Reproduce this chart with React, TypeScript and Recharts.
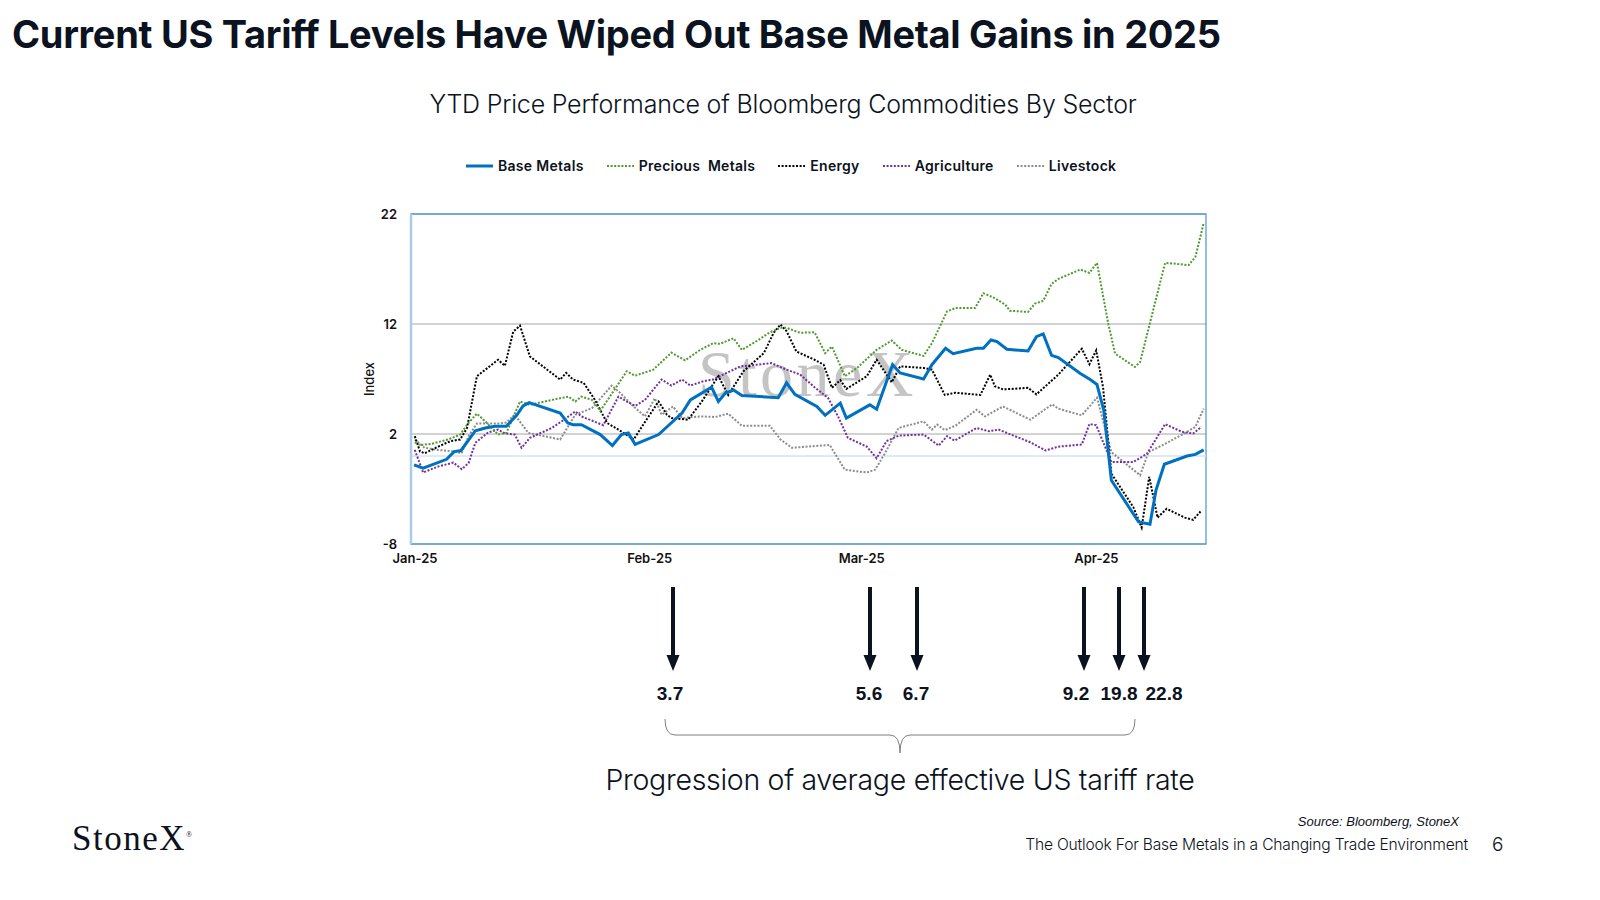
import { LineChart, Line, XAxis, YAxis, CartesianGrid, ReferenceArea, ReferenceLine } from 'recharts';

// x = days since 1 Jan 2025, y = YTD % change
const monthTicks = [0, 31, 59, 90];
const monthLabels = ['Jan-25', 'Feb-25', 'Mar-25', 'Apr-25'];
const yTicks = [-8, 2, 12, 22];

const baseMetals: [number, number][] = [
  [0.4, -0.8], [1.6, -1.1], [4.7, -0.3], [5.7, 0.4], [6.6, 0.5], [8.5, 2.3], [9.8, 2.55], [11.1, 2.7],
  [12.6, 2.7], [14.0, 3.75], [14.8, 4.55], [15.6, 4.85], [19.7, 3.9], [20.7, 3.0], [21.4, 2.85], [22.5, 2.85],
  [25.0, 1.95], [26.6, 0.95], [27.8, 1.95], [28.7, 2.1], [29.6, 1.05], [32.7, 1.95], [35.8, 3.9], [36.9, 5.1],
  [39.7, 6.25], [40.6, 4.95], [41.5, 5.7], [42.6, 6.0], [43.7, 5.5], [48.5, 5.3], [49.6, 6.65], [50.7, 5.6],
  [53.6, 4.5], [54.7, 3.7], [56.7, 4.8], [57.5, 3.45], [60.6, 4.65], [61.5, 4.25], [63.6, 8.3], [64.6, 7.55],
  [67.7, 7.0], [68.8, 8.3], [70.6, 9.8], [71.6, 9.3], [74.7, 9.8], [75.6, 9.8], [76.6, 10.55], [77.4, 10.4],
  [78.7, 9.7], [81.5, 9.55], [82.6, 10.85], [83.5, 11.1], [84.6, 9.15], [85.5, 8.95], [88.4, 7.5], [89.7, 6.95],
  [90.6, 6.5], [91.5, 4.15], [92.5, -2.2], [96.1, -6.0], [97.6, -6.2], [98.4, -3.1], [99.5, -0.75], [102.5, 0.0],
  [103.6, 0.15], [104.7, 0.55],
];

const preciousMetals: [number, number][] = [
  [0.5, 1.25], [1.2, 1.0], [2.7, 1.1], [4.9, 1.5], [6.5, 1.95], [7.4, 2.85], [8.7, 3.85], [9.8, 3.15],
  [11.5, 1.95], [12.6, 2.1], [14.4, 4.95], [15.7, 4.65], [18.6, 5.1], [20.8, 5.4], [21.7, 4.95], [22.5, 5.4],
  [23.9, 5.1], [25.0, 4.1], [28.5, 7.7], [29.6, 7.3], [32.0, 7.85], [34.4, 9.4], [36.2, 8.7], [38.2, 9.65],
  [39.9, 10.25], [40.8, 10.2], [42.6, 10.7], [43.7, 9.65], [45.9, 10.55], [47.4, 11.25], [48.8, 11.65], [49.6, 11.65],
  [51.4, 11.2], [53.3, 11.25], [54.7, 9.35], [55.6, 9.95], [57.3, 7.25], [58.9, 8.0], [61.5, 9.65], [63.5, 10.5],
  [64.8, 9.65], [67.7, 9.1], [68.8, 10.25], [70.8, 13.15], [71.9, 13.45], [74.5, 13.45], [75.6, 14.8], [77.1, 14.35],
  [78.5, 13.75], [79.1, 13.2], [81.5, 13.1], [82.4, 13.85], [83.5, 14.1], [84.6, 15.65], [85.5, 16.1], [88.4, 16.95],
  [89.6, 16.65], [90.6, 17.55], [92.1, 12.0], [93.0, 9.3], [95.6, 8.1], [96.3, 8.55], [99.6, 17.55], [100.7, 17.5],
  [102.7, 17.35], [103.6, 18.1], [104.7, 21.2],
];

const energy: [number, number][] = [
  [0.5, 1.8], [1.2, 0.4], [1.8, 0.25], [3.6, 0.85], [5.2, 1.35], [6.5, 1.5], [7.4, 2.55], [8.7, 7.25],
  [11.5, 8.75], [12.4, 8.2], [13.5, 11.3], [14.4, 11.85], [15.7, 9.05], [19.7, 6.95], [20.5, 7.55], [21.4, 6.95],
  [22.8, 6.65], [24.3, 5.1], [25.9, 3.0], [27.4, 2.4], [29.4, 1.5], [31.1, 3.3], [32.7, 4.95], [33.8, 3.75],
  [34.4, 3.45], [36.6, 3.3], [38.4, 4.95], [40.6, 7.25], [41.9, 5.55], [43.9, 7.7], [46.6, 9.35], [47.9, 11.2],
  [48.8, 11.95], [49.6, 11.35], [50.9, 9.5], [53.3, 8.75], [54.5, 8.3], [55.6, 6.2], [56.7, 6.9], [57.5, 6.1],
  [60.2, 7.25], [61.5, 8.75], [63.5, 6.7], [64.6, 8.15], [67.7, 8.0], [68.8, 7.85], [70.5, 5.55], [71.9, 5.75],
  [75.2, 5.55], [76.5, 7.4], [77.1, 6.35], [78.2, 6.05], [81.5, 6.2], [82.6, 5.6], [85.5, 7.4], [88.6, 9.75],
  [89.6, 8.35], [90.5, 9.6], [91.4, 6.25], [92.5, -1.6], [95.4, -4.65], [96.5, -6.5], [97.5, -1.9], [98.6, -5.6],
  [99.8, -4.8], [102.2, -5.6], [103.3, -5.8], [104.4, -4.95],
];

const agriculture: [number, number][] = [
  [0.5, 0.55], [1.6, -1.5], [3.6, -0.95], [5.6, -0.6], [6.7, -1.2], [7.6, -0.65], [8.5, 1.2], [10.2, 2.15],
  [11.5, 2.4], [12.4, 2.05], [13.7, 1.95], [14.6, 0.75], [15.7, 1.65], [18.6, 2.55], [19.9, 3.15], [21.7, 4.05],
  [22.5, 3.6], [25.4, 2.8], [26.7, 4.5], [27.4, 5.4], [28.5, 4.95], [29.6, 4.55], [30.9, 5.1], [32.2, 6.2],
  [33.1, 6.95], [34.4, 6.4], [35.8, 6.95], [36.9, 6.4], [38.6, 6.8], [39.9, 6.95], [41.7, 7.55], [43.5, 8.15],
  [45.7, 8.3], [47.6, 8.45], [49.6, 7.85], [51.4, 7.4], [53.3, 6.25], [55.1, 5.25], [56.4, 3.6], [57.7, 1.65],
  [60.2, 0.85], [61.5, -0.2], [62.8, 1.35], [64.4, 1.85], [67.7, 1.95], [69.7, 0.95], [70.8, 1.8], [71.8, 1.4],
  [74.7, 2.55], [76.3, 2.25], [77.6, 2.4], [81.8, 1.25], [83.8, 0.5], [85.5, 0.85], [88.6, 1.05], [89.6, 2.9],
  [90.5, 2.8], [92.5, -0.55], [95.4, -0.55], [97.2, 0.2], [99.6, 2.9], [101.8, 2.2], [103.3, 2.05], [104.4, 2.65],
];

const livestock: [number, number][] = [
  [0.5, 1.5], [1.8, 0.75], [3.6, 0.55], [5.8, 0.4], [6.7, 0.25], [7.6, 1.8], [8.7, 2.95], [11.5, 2.95],
  [12.6, 3.05], [13.7, 3.75], [15.5, 2.1], [19.7, 1.5], [20.5, 2.4], [21.7, 3.75], [23.9, 4.35], [26.5, 6.4],
  [27.6, 5.75], [29.4, 4.5], [30.9, 3.6], [32.2, 5.25], [33.1, 3.75], [34.6, 4.5], [35.8, 3.45], [38.2, 3.6],
  [40.2, 3.55], [41.9, 3.85], [43.7, 2.75], [47.4, 2.75], [48.8, 1.5], [50.3, 0.75], [55.3, 1.0], [57.3, -1.25],
  [60.2, -1.5], [61.3, -1.25], [62.6, 0.25], [64.4, 2.55], [67.7, 3.15], [68.8, 2.4], [69.5, 2.85], [70.5, 2.35],
  [71.9, 2.75], [74.7, 4.2], [75.8, 3.6], [78.2, 4.5], [81.8, 3.3], [84.7, 4.7], [85.5, 4.3], [88.6, 3.7],
  [90.6, 5.3], [92.5, 0.35], [96.3, -1.75], [97.4, 0.35], [99.6, 1.1], [102.5, 2.2], [103.6, 2.65], [104.7, 4.3],
];

// average effective US tariff rate at each announcement
const tariffRates = ['3.7', '5.6', '6.7', '9.2', '19.8', '22.8'];
const arrowX = [673, 870, 917, 1084, 1119, 1144];
const rateLabelX = [670, 869, 916, 1076, 1119, 1164];

const DOTS = '2 1.6';
const SERIES = [
  { name: 'Base Metals', data: baseMetals, color: '#0070C0', width: 3, dash: undefined },
  { name: 'Precious  Metals', data: preciousMetals, color: '#4E9A2E', width: 2, dash: DOTS },
  { name: 'Energy', data: energy, color: '#000000', width: 2, dash: DOTS },
  { name: 'Agriculture', data: agriculture, color: '#7030A0', width: 2, dash: DOTS },
  { name: 'Livestock', data: livestock, color: '#8C8C8C', width: 2, dash: DOTS },
];
// draw order: dotted series first, base metals on top
const DRAW_ORDER = [4, 3, 2, 1, 0];

const toRows = (pts: [number, number][]) => pts.map(([day, v]) => ({ day, v }));

const INK = '#0B1220';

function IndexLabel(props: any) {
  const vb = props.viewBox || { x: 0, y: 0, width: 0, height: 0 };
  const cx = vb.x + 29;
  const cy = vb.y + vb.height / 2;
  return (
    <text x={cx} y={cy} transform={`rotate(-90, ${cx}, ${cy})`} textAnchor="middle" dominantBaseline="central"
      fontSize={13} fontWeight={500} fill="#111">
      Index
    </text>
  );
}

export default function App() {
  return (
    <div style={{ position: 'absolute', left: 0, top: 0, width: 1600, height: 900, background: '#fff', overflow: 'hidden', fontFamily: 'Inter, sans-serif', color: INK }}>
      <div style={{ position: 'absolute', left: 12, top: 11, fontSize: 38, fontWeight: 700, letterSpacing: -0.3, whiteSpace: 'nowrap' }}>
        Current US Tariff Levels Have Wiped Out Base Metal Gains in 2025
      </div>
      <div style={{ position: 'absolute', left: 0, width: 1566, top: 89, textAlign: 'center', fontSize: 25, fontWeight: 300, letterSpacing: -0.2, whiteSpace: 'nowrap' }}>
        YTD Price Performance of Bloomberg Commodities By Sector
      </div>

      {/* legend */}
      <div style={{ position: 'absolute', left: 466, top: 157, display: 'flex', alignItems: 'center', gap: 23, fontSize: 14, fontWeight: 600, letterSpacing: 0.3, whiteSpace: 'pre' }}>
        {SERIES.map((s) => (
          <div key={s.name} style={{ display: 'flex', alignItems: 'center', gap: 5 }}>
            <svg width={27} height={8}>
              <line x1={0} y1={4} x2={27} y2={4} stroke={s.color} strokeWidth={s.width} strokeDasharray={s.dash} />
            </svg>
            <span>{s.name}</span>
          </div>
        ))}
      </div>

      {/* watermark under the lines */}
      <div style={{ position: 'absolute', left: 698, top: 336, fontFamily: '"Liberation Serif", serif', fontSize: 66, letterSpacing: 3.5, color: '#C4C4C4' }}>
        StoneX
      </div>

      <div style={{ position: 'absolute', left: 340, top: 200 }}>
        <LineChart width={880} height={380} margin={{ top: 14, right: 14, left: 0, bottom: 0 }}>
          <CartesianGrid vertical={false} stroke="#A6A6A6" strokeWidth={1.2} />
          <ReferenceLine y={0} stroke="#D2E4F5" strokeWidth={1.5} />
          <XAxis
            type="number"
            dataKey="day"
            domain={[0, 105]}
            ticks={monthTicks}
            tickFormatter={(d: number) => monthLabels[monthTicks.indexOf(d)]}
            axisLine={false}
            tickLine={false}
            height={36}
            tick={{ fontSize: 13, fontWeight: 600, fill: '#111', dx: 4 }}
            tickMargin={4}
            interval={0}
          />
          <YAxis
            domain={[-8, 22]}
            ticks={yTicks}
            width={71}
            axisLine={false}
            tickLine={false}
            tickMargin={8}
            tick={{ fontSize: 13, fontWeight: 600, fill: '#111' }}
            label={<IndexLabel />}
          />
          <ReferenceArea x1={0} x2={105} y1={-8} y2={22} fill="none" stroke="#5B9BD5" strokeWidth={1.3} />
          <ReferenceLine x={0} stroke="#A9CCEA" strokeWidth={2.5} />
          {DRAW_ORDER.map((i) => {
            const s = SERIES[i];
            return (
              <Line
                key={s.name}
                data={toRows(s.data)}
                dataKey="v"
                name={s.name}
                type="linear"
                stroke={s.color}
                strokeWidth={s.width}
                strokeDasharray={s.dash}
                dot={false}
                activeDot={false}
                isAnimationActive={false}
              />
            );
          })}
        </LineChart>
      </div>

      {/* tariff announcements */}
      <svg style={{ position: 'absolute', left: 0, top: 0 }} width={1600} height={900}>
        {arrowX.map((x) => (
          <g key={x} fill={INK}>
            <rect x={x - 2} y={587} width={4} height={70} />
            <polygon points={`${x - 6.5},655 ${x + 6.5},655 ${x},671`} />
          </g>
        ))}
        <path d="M665,719 Q665,735 675,735 L890,735 Q900,735 900,753 Q900,735 910,735 L1125,735 Q1135,735 1135,719"
          fill="none" stroke="#7F7F7F" strokeWidth={1} />
      </svg>
      {tariffRates.map((r, i) => (
        <div key={r} style={{ position: 'absolute', left: rateLabelX[i] - 40, width: 80, top: 683, textAlign: 'center', fontFamily: '"Liberation Sans", Arial, sans-serif', fontSize: 19, fontWeight: 700 }}>
          {r}
        </div>
      ))}
      <div style={{ position: 'absolute', left: 400, width: 1000, top: 762, textAlign: 'center', fontSize: 28.5, fontWeight: 300, letterSpacing: -0.3 }}>
        Progression of average effective US tariff rate
      </div>

      {/* footer */}
      <div style={{ position: 'absolute', left: 72, top: 819, fontFamily: '"Liberation Serif", serif', fontSize: 35, letterSpacing: 1.5 }}>
        StoneX<sup style={{ fontSize: 8 }}>®</sup>
      </div>
      <div style={{ position: 'absolute', right: 141, top: 814, fontFamily: '"Liberation Sans", Arial, sans-serif', fontStyle: 'italic', fontSize: 13 }}>
        Source: Bloomberg, StoneX
      </div>
      <div style={{ position: 'absolute', right: 132, top: 835, fontSize: 15.6, fontWeight: 300, letterSpacing: -0.2 }}>
        The Outlook For Base Metals in a Changing Trade Environment
      </div>
      <div style={{ position: 'absolute', left: 1492, top: 833, fontSize: 19, fontWeight: 300 }}>6</div>
    </div>
  );
}
